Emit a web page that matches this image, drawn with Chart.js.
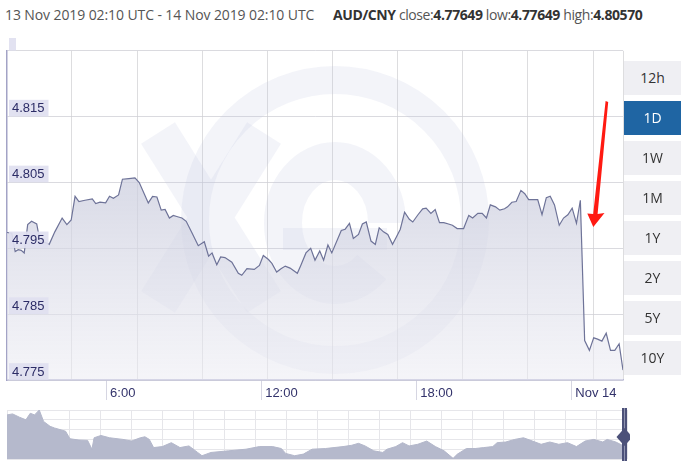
<!DOCTYPE html>
<html>
<head>
<meta charset="utf-8">
<script src="https://cdn.jsdelivr.net/npm/chart.js@4.4.0/dist/chart.umd.min.js"></script>
<style>
    body { margin: 0; width: 681px; height: 468px; background: #fff; position: relative; overflow: hidden; font-family: 'Open Sans', sans-serif; }
    .header { position: absolute; top: 5px; font-size: 14px; color: #555; white-space: nowrap; line-height: 20px; letter-spacing: -0.1px; }
    .header b { color: #333; }
    #mainWrap { position: absolute; left: 0; top: 38px; width: 626px; height: 368px; }
    #navWrap { position: absolute; left: 0; top: 406px; width: 630px; height: 56px; }
    .btn { position: absolute; left: 624px; width: 57px; height: 34px; background: #efeff3; color: #333; font-size: 14px; line-height: 34px; text-align: center; }
    .btn.active { background: #1f65a3; color: #fff; }
</style>
</head>
<body>
<div class="header" style="left:5px">13 Nov 2019 02:10 UTC - 14 Nov 2019 02:10 UTC</div>
<div class="header" style="left:333px; letter-spacing:-0.4px"><b>AUD/CNY</b> close:<b>4.77649</b> low:<b>4.77649</b> high:<b>4.80570</b></div>
<div id="mainWrap"><canvas id="rateChart"></canvas></div>
<div id="navWrap"><canvas id="navChart"></canvas></div>
<div id="buttons"></div>
<script>
// AUD/CNY, 13 Nov 2019 02:10 UTC - 14 Nov 2019 02:10 UTC
const times = [
    '02:10', '02:21', '02:29', '02:36', '02:43', '02:50', '02:58', '03:07', '03:19', '03:27',
    '03:38', '03:48', '04:01', '04:18', '04:29', '04:39', '04:48', '04:57', '05:11', '05:28',
    '05:36', '05:46', '05:59', '06:08', '06:17', '06:29', '06:38', '06:53', '07:07', '07:17',
    '07:38', '07:48', '07:58', '08:08', '08:17', '08:27', '08:36', '08:46', '08:56', '09:06',
    '09:19', '09:34', '09:48', '09:58', '10:06', '10:17', '10:26', '10:36', '10:52', '11:07',
    '11:15', '11:27', '11:44', '11:56', '12:05', '12:17', '12:25', '12:36', '12:46', '12:56',
    '13:07', '13:24', '13:32', '13:44', '13:55', '14:05', '14:16', '14:25', '14:35', '14:44',
    '15:06', '15:15', '15:25', '15:34', '15:46', '15:55', '16:04', '16:15', '16:25', '16:34',
    '16:44', '16:54', '17:05', '17:13', '17:23', '17:33', '17:44', '17:52', '18:04', '18:15',
    '18:23', '18:34', '18:44', '18:54', '19:04', '19:15', '19:24', '19:35', '19:50', '20:02',
    '20:11', '20:23', '20:33', '20:43', '20:52', '21:04', '21:14', '21:25', '21:32', '21:42',
    '21:52', '22:03', '22:12', '22:21', '22:33', '22:42', '22:52', '23:02', '23:11', '23:21',
    '23:32', '23:42', '23:52', '00:02', '00:12', '00:21', '00:31', '00:42', '00:52', '01:01',
    '01:11', '01:21', '01:31', '01:41', '01:51', '02:00'
];
const rates = [
    4.7974, 4.7973, 4.7945, 4.7948, 4.7947, 4.7943, 4.7986, 4.7991, 4.7987, 4.7959,
    4.7959, 4.7956, 4.7975, 4.7996, 4.7986, 4.7993, 4.8029, 4.8021, 4.8023, 4.8025,
    4.8018, 4.8020, 4.8019, 4.8029, 4.8026, 4.8031, 4.8055, 4.8056, 4.8057, 4.8050,
    4.8019, 4.8029, 4.8028, 4.8008, 4.8009, 4.7996, 4.8000, 4.7998, 4.7996, 4.7991,
    4.7974, 4.7954, 4.7960, 4.7938, 4.7943, 4.7925, 4.7937, 4.7936, 4.7929, 4.7912,
    4.7909, 4.7919, 4.7918, 4.7924, 4.7939, 4.7933, 4.7927, 4.7914, 4.7919, 4.7923,
    4.7920, 4.7912, 4.7924, 4.7943, 4.7950, 4.7932, 4.7946, 4.7932, 4.7955, 4.7943,
    4.7977, 4.7979, 4.7988, 4.7965, 4.7971, 4.7987, 4.7990, 4.7961, 4.7956, 4.7981,
    4.7975, 4.7971, 4.7956, 4.7966, 4.7979, 4.8005, 4.7994, 4.7990, 4.8001, 4.8010,
    4.8011, 4.8003, 4.8009, 4.7989, 4.7989, 4.7987, 4.7985, 4.7980, 4.7980, 4.8000,
    4.7996, 4.8003, 4.8003, 4.7996, 4.8016, 4.8013, 4.8008, 4.8010, 4.8013, 4.8020,
    4.8021, 4.8038, 4.8033, 4.8024, 4.8024, 4.8024, 4.8001, 4.8027, 4.8029, 4.8016,
    4.7985, 4.7996, 4.8001, 4.8011, 4.7988, 4.8023, 4.7810, 4.7795, 4.7814, 4.7812,
    4.7809, 4.7821, 4.7795, 4.7795, 4.7805, 4.7765
];
const tickHours = [6, 12, 18, 24];
const tickLabels = ['6:00', '12:00', '18:00', 'Nov 14'];
const yTicks = [4.775, 4.785, 4.795, 4.805, 4.815];

// navigator (longer history, days back from start of window)
const navDays = [
    0, 0.18, 0.40, 0.61, 0.75, 0.89, 1.04, 1.18, 1.39, 1.53,
    1.89, 2.03, 2.32, 2.60, 2.74, 2.81, 3.03, 3.31, 3.74, 4.02,
    4.30, 4.45, 4.59, 4.73, 5.01, 5.30, 5.58, 5.87, 6.15, 6.29,
    6.58, 7.14, 7.71, 8.14, 8.57, 8.85, 8.99, 9.28, 9.56, 9.84,
    10.27, 10.55, 10.84, 11.12, 11.34, 11.55, 11.83, 12.12, 12.26, 12.54,
    12.76, 12.97, 13.25, 13.54, 13.82, 14.10, 14.39, 14.53, 14.82, 15.10,
    15.38, 15.67, 15.81, 16.09, 16.38, 16.66, 16.95, 17.23, 17.51, 17.80,
    18.08, 18.37, 18.65, 18.93, 19.22, 19.36, 19.64, 19.93
];
const navRates = [
    4.935, 4.938, 4.928, 4.920, 4.940, 4.935, 4.950, 4.915, 4.900, 4.895,
    4.885, 4.862, 4.858, 4.857, 4.830, 4.865, 4.872, 4.865, 4.860, 4.855,
    4.865, 4.868, 4.860, 4.835, 4.838, 4.850, 4.835, 4.840, 4.820, 4.810,
    4.820, 4.825, 4.830, 4.838, 4.838, 4.832, 4.817, 4.810, 4.815, 4.830,
    4.832, 4.835, 4.838, 4.842, 4.848, 4.840, 4.825, 4.820, 4.830, 4.838,
    4.850, 4.840, 4.845, 4.855, 4.838, 4.825, 4.802, 4.815, 4.832, 4.832,
    4.835, 4.838, 4.850, 4.852, 4.860, 4.865, 4.855, 4.845, 4.852, 4.845,
    4.850, 4.838, 4.855, 4.860, 4.852, 4.860, 4.852, 4.838
];

const ranges = ['12h', '1D', '1W', '1M', '1Y', '2Y', '5Y', '10Y'];

ranges.forEach((r, i) => {
    const b = document.createElement('div');
    b.className = 'btn' + (r === '1D' ? ' active' : '');
    b.style.top = (61 + i * 40) + 'px';
    b.textContent = r;
    document.getElementById('buttons').appendChild(b);
});

const toHours = (t) => {
    const [h, m] = t.split(':').map(Number);
    let v = h + m / 60;
    if (v < 2.1) v += 24;
    return v;
};

Chart.defaults.font.family = "'Liberation Sans', Arial, sans-serif";
Chart.defaults.font.size = 13;

const watermark = {
    id: 'watermark',
    beforeDatasetsDraw(chart) {
        const ctx = chart.ctx;
        const a = chart.chartArea;
        ctx.save();
        ctx.beginPath();
        ctx.rect(a.left, a.top, a.right - a.left, a.bottom - a.top);
        ctx.clip();
        ctx.strokeStyle = 'rgba(190,195,222,0.18)';
        ctx.fillStyle = 'rgba(190,195,222,0.18)';
        // ring
        ctx.lineWidth = 28;
        ctx.beginPath();
        ctx.arc(335, 182, 140, 0, Math.PI * 2);
        ctx.stroke();
        // x
        ctx.lineWidth = 40;
        ctx.lineCap = 'butt';
        ctx.beginPath();
        ctx.moveTo(158, 95); ctx.lineTo(264, 264);
        ctx.moveTo(264, 95); ctx.lineTo(158, 264);
        ctx.stroke();
        // e
        ctx.lineWidth = 38;
        ctx.beginPath();
        ctx.ellipse(335, 185, 52, 62, 0, 0, Math.PI * 0.25, true);
        ctx.stroke();
        ctx.fillRect(283, 190, 104, 22);
        ctx.restore();
    }
};

const arrow = {
    id: 'arrow',
    afterDraw(chart) {
        const ctx = chart.ctx;
        ctx.save();
        ctx.fillStyle = '#ff1a12';
        ctx.beginPath();
        ctx.moveTo(605.6, 63);
        ctx.lineTo(608.2, 64);
        ctx.lineTo(597.6, 176);
        ctx.lineTo(604.5, 175);
        ctx.lineTo(593.3, 189);
        ctx.lineTo(587.3, 175.5);
        ctx.lineTo(593.2, 176);
        ctx.closePath();
        ctx.fill();
        ctx.restore();
    }
};

const gridStart = 4.68;
const gridStep = 2.52;

charts = {};

charts.rate = new Chart(
    document.getElementById('rateChart'),
    {
        type: 'line',
        data: {
            datasets: [{
                label: 'AUD/CNY',
                data: times.map((t, i) => ({ x: toHours(t), y: rates[i] })),
                borderColor: '#6e7398',
                borderWidth: 1.2,
                pointRadius: 0,
                tension: 0,
                fill: 'start',
                backgroundColor: (context) => {
                    const a = context.chart.chartArea;
                    if (!a) return 'rgba(210,212,226,0.7)';
                    const g = context.chart.ctx.createLinearGradient(0, a.top, 0, a.bottom);
                    g.addColorStop(0, 'rgba(196,199,219,0.78)');
                    g.addColorStop(0.45, 'rgba(205,207,223,0.7)');
                    g.addColorStop(1, 'rgba(236,236,243,0.55)');
                    return g;
                }
            }]
        },
        options: {
            animation: false,
            responsive: true,
            maintainAspectRatio: false,
            layout: { padding: { left: 7, top: 7, right: 3, bottom: 0 } },
            plugins: {
                legend: { display: false },
                tooltip: { enabled: false }
            },
            scales: {
                x: {
                    type: 'linear',
                    min: 2 + 10 / 60,
                    max: 26,
                    afterBuildTicks: (s) => { s.ticks = tickHours.map((v) => ({ value: v })); },
                    afterFit: (s) => { s.height = 26; },
                    ticks: {
                        callback: (v) => tickLabels[tickHours.indexOf(v)],
                        align: 'start',
                        labelOffset: 4,
                        padding: -14,
                        maxRotation: 0,
                        autoSkip: false,
                        color: '#33336b'
                    },
                    grid: {
                        drawOnChartArea: false,
                        drawTicks: true,
                        tickLength: 20,
                        color: '#d6d6e2'
                    },
                    border: { display: true, color: '#b9b9d6', width: 1.5 }
                },
                xg: {
                    type: 'linear',
                    position: 'bottom',
                    min: 2 + 10 / 60,
                    max: 26,
                    afterBuildTicks: (s) => {
                        const t = [];
                        for (let v = gridStart; v < 26; v += gridStep) t.push({ value: v });
                        t.push({ value: 26 });
                        s.ticks = t;
                    },
                    afterFit: (s) => { s.height = 0; },
                    ticks: { display: false },
                    grid: { color: '#dddddf', drawTicks: false },
                    border: { display: false }
                },
                y: {
                    min: 4.775,
                    max: 4.825,
                    afterBuildTicks: (s) => { s.ticks = [...yTicks, 4.825].map((v) => ({ value: v })); },
                    afterFit: (s) => { s.width = 0; },
                    ticks: {
                        z: 1,
                        mirror: true,
                        padding: 5,
                        labelOffset: -8,
                        color: '#2c2c66',
                        showLabelBackdrop: true,
                        backdropColor: 'rgba(224,224,240,0.92)',
                        backdropPadding: { left: 3, right: 4, top: 1, bottom: 0 },
                        callback: (v) => (v > 4.82 ? '' : v.toFixed(3))
                    },
                    grid: { color: 'rgba(205,205,212,0.75)', drawTicks: false },
                    border: { display: true, color: '#a3a3c6', width: 1.5 }
                }
            }
        },
        plugins: [watermark, arrow]
    }
);

const navHandle = {
    id: 'navHandle',
    afterDraw(chart) {
        const ctx = chart.ctx;
        const a = chart.chartArea;
        const x = a.right - 3;
        ctx.save();
        ctx.fillStyle = '#4c5179';
        ctx.fillRect(x - 2, a.top - 2, 5, a.bottom - a.top + 4);
        ctx.fillStyle = '#8f93b0';
        ctx.fillRect(x, a.top - 2, 1, a.bottom - a.top + 4);
        const cy = a.top + 27;
        ctx.fillStyle = '#4c5179';
        ctx.beginPath();
        ctx.moveTo(x + 0.5, cy - 9);
        ctx.lineTo(x + 8.5, cy);
        ctx.lineTo(x + 0.5, cy + 9);
        ctx.lineTo(x - 7.5, cy);
        ctx.closePath();
        ctx.fill();
        ctx.restore();
    }
};

charts.nav = new Chart(
    document.getElementById('navChart'),
    {
        type: 'line',
        data: {
            datasets: [{
                label: 'Navigator',
                data: navDays.map((d, i) => ({ x: d, y: navRates[i] })),
                borderColor: '#b3b7ca',
                borderWidth: 1,
                pointRadius: 0,
                tension: 0,
                fill: 'start',
                backgroundColor: '#b5b9cc'
            }]
        },
        options: {
            animation: false,
            responsive: true,
            maintainAspectRatio: false,
            layout: { padding: { left: 7, top: 4, right: 3, bottom: 3 } },
            plugins: {
                legend: { display: false },
                tooltip: { enabled: false }
            },
            scales: {
                x: {
                    type: 'linear',
                    min: 0,
                    max: 20,
                    afterFit: (s) => { s.height = 0; },
                    ticks: { display: false, stepSize: 1 },
                    grid: { color: '#e6e6ea', drawTicks: false },
                    border: { display: false }
                },
                y: {
                    min: 4.80,
                    max: 4.95,
                    afterFit: (s) => { s.width = 0; },
                    ticks: { display: false, stepSize: 0.03 },
                    grid: { color: '#e6e6ea', drawTicks: false },
                    border: { display: false }
                }
            }
        },
        plugins: [navHandle]
    }
);
</script>
</body>
</html>
